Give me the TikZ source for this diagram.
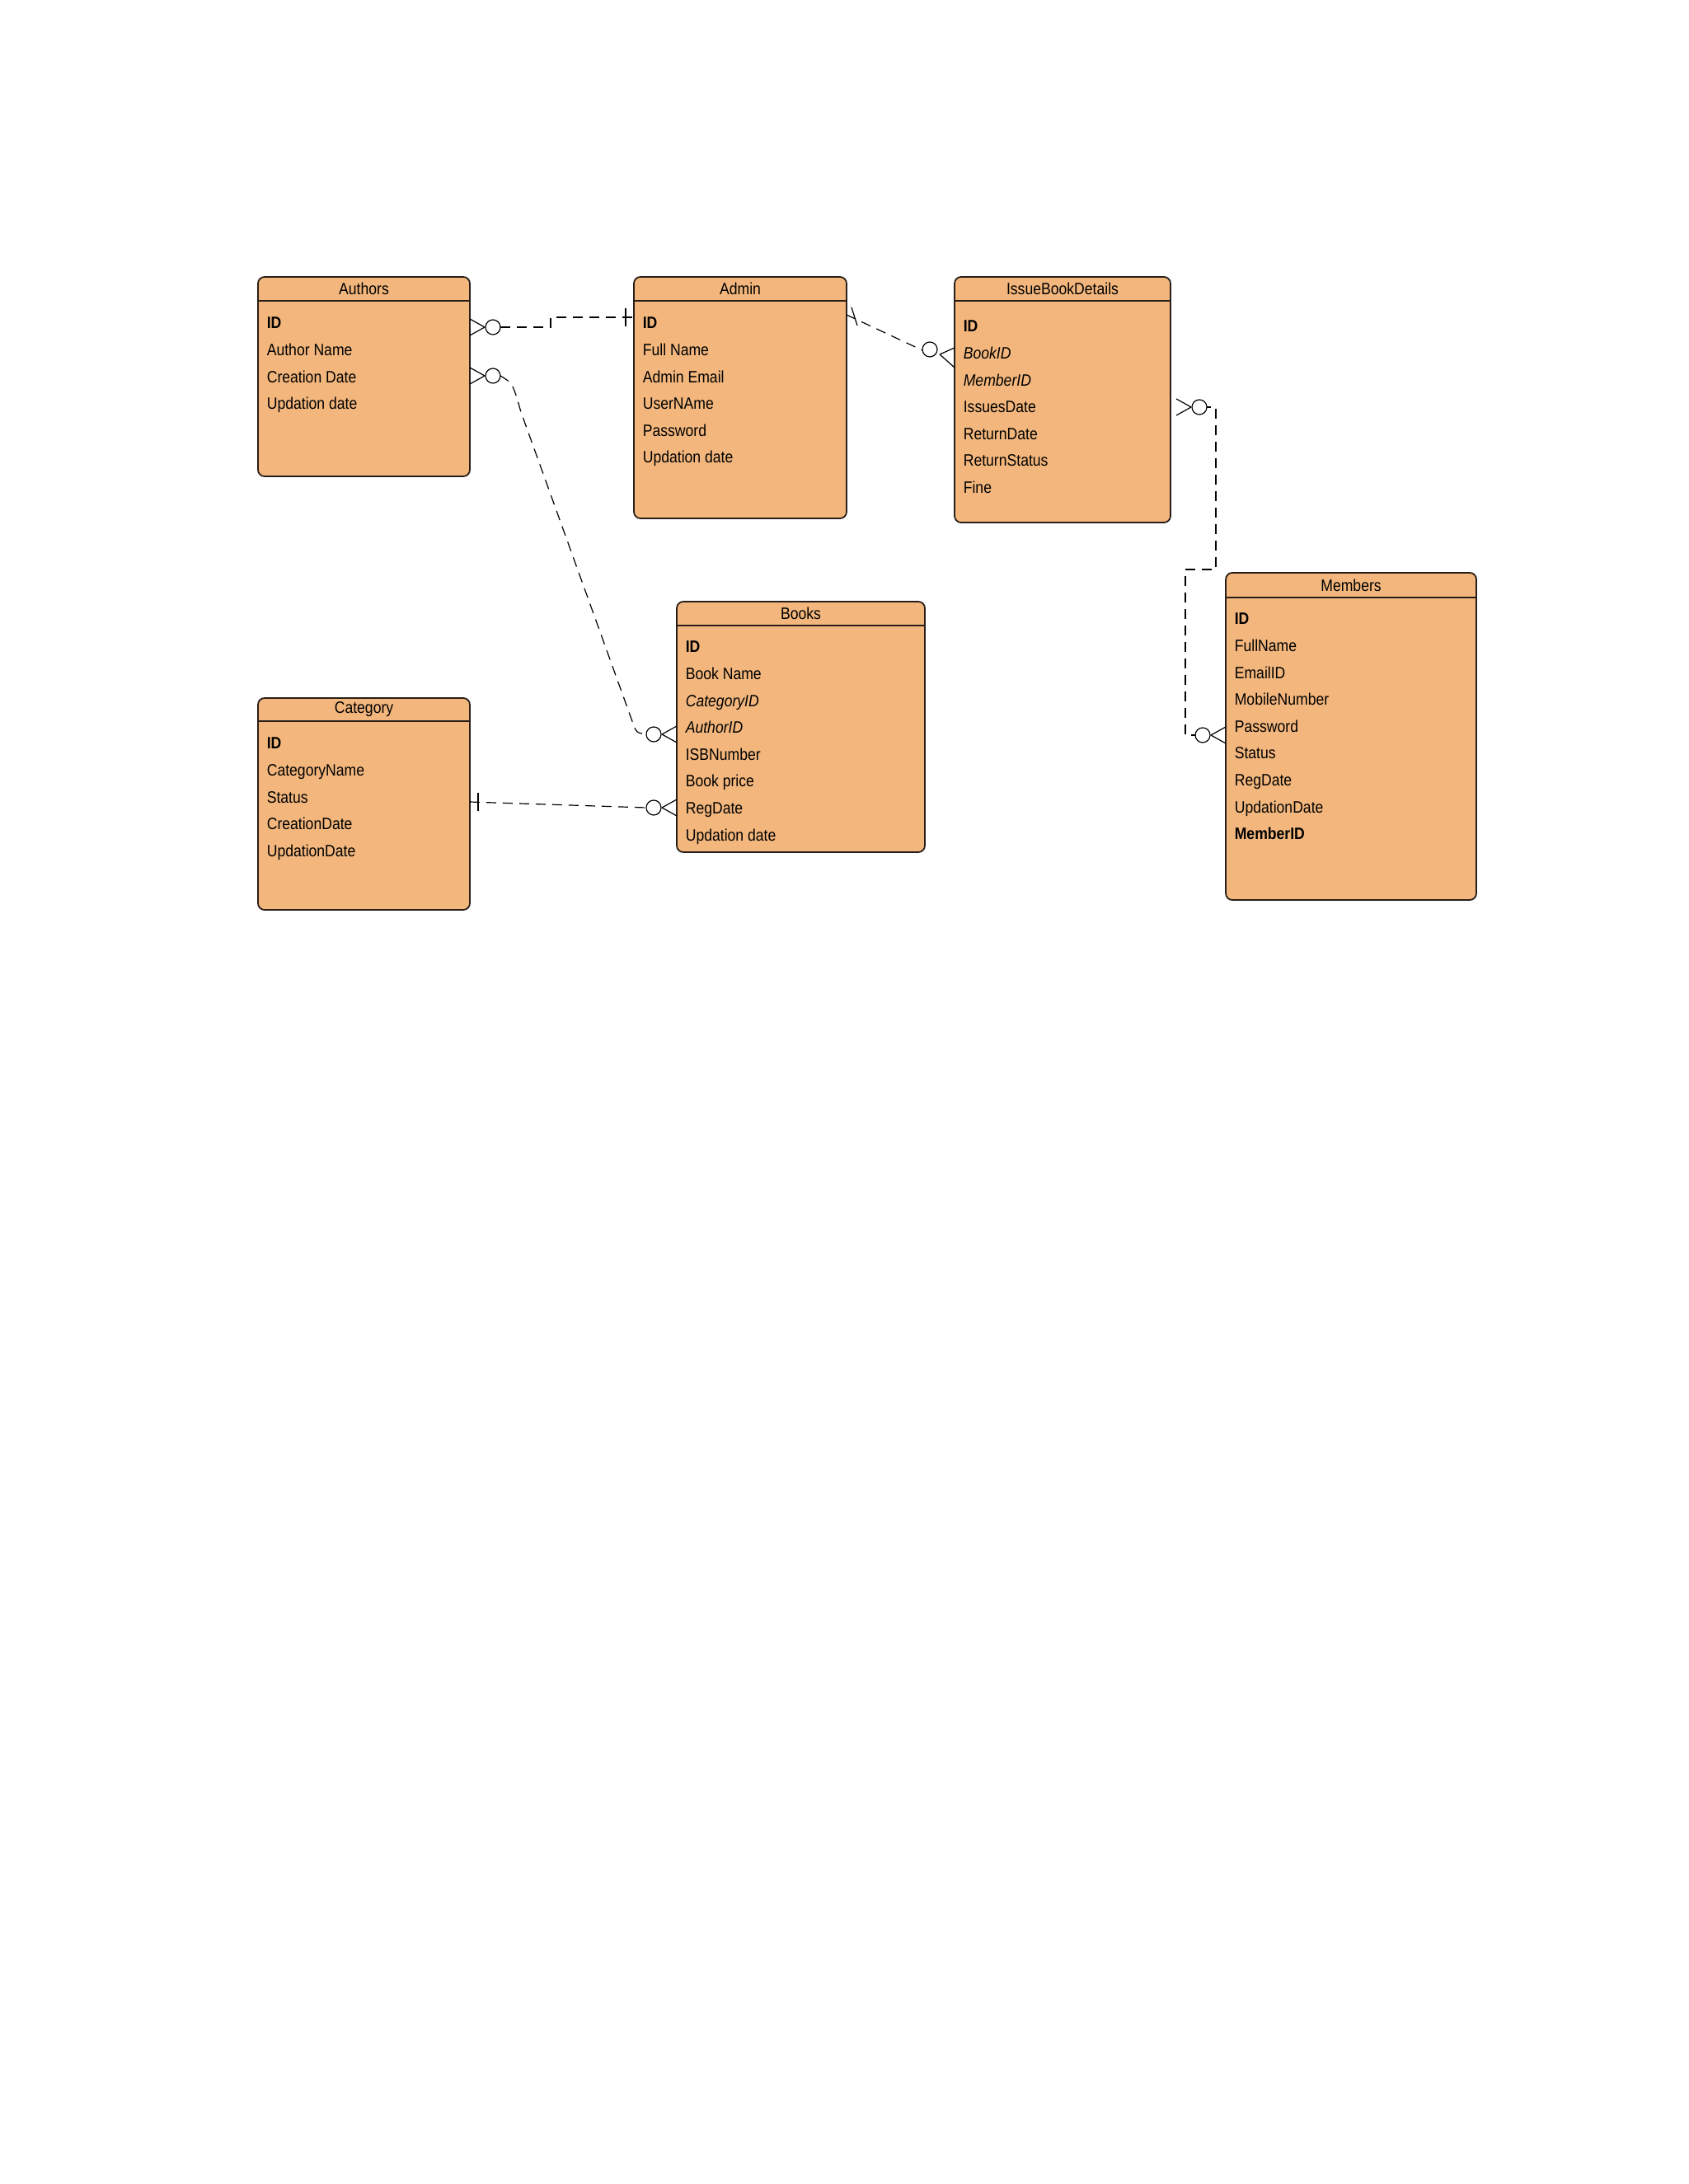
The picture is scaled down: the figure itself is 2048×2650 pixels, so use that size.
\documentclass[tikz,border=0pt]{standalone}
\usepackage{fontspec}
\setmainfont{Liberation Sans}[FakeStretch=0.88]
\definecolor{entfill}{RGB}{243,183,125}
\definecolor{entline}{RGB}{40,30,25}
\tikzset{
  entbox/.style={draw=entline,fill=entfill,line width=0.45pt,rounded corners=2pt},
  rowtxt/.style={anchor=base west,inner sep=0pt,font=\fontsize{5}{6}\selectfont},
  ttl/.style={inner sep=0pt,font=\fontsize{5}{6}\selectfont},
  rel/.style={densely dashed,line width=0.3pt,black},
  ends/.style={line width=0.3pt,black}
}
\newcommand\entity[7]{%
  \draw[entbox] (#2,#3) rectangle (#4,#5);
  \draw[entline,line width=0.45pt] (#2,#7) -- (#4,#7);
  \node[ttl] (#1) at ({(#2+#4)/2},{(#3+#7)/2}) {#6};}
\newcommand\rowsat[3]{\foreach \t [count=\i from 0] in {#3}{\node[rowtxt] at (#1,{#2+32.6*\i}) {\t};}}
% crow + circle, entity to the right of point (line arrives from left)
\newcommand\crowR[2]{\draw[ends] (#1-18,#2) -- (#1,#2-10) (#1-18,#2) -- (#1,#2+10); \draw[ends,fill=white] (#1-28,#2) circle[radius=9];}
% crow + circle, entity to the left of point (line leaves to right)
\newcommand\crowL[2]{\draw[ends] (#1+18,#2) -- (#1,#2-10) (#1+18,#2) -- (#1,#2+10); \draw[ends,fill=white] (#1+28,#2) circle[radius=9];}
\begin{document}
\begin{tikzpicture}[x=0.25pt,y=-0.25pt]
\useasboundingbox[fill=white] (0,0) rectangle (2048,2650);
% entities
\entity{authors}{313}{336}{570}{578}{Authors}{365}
\rowsat{323}{399}{\textbf{ID},Author Name,Creation Date,Updation date}
\entity{admin}{769}{336}{1027}{629}{Admin}{365}
\rowsat{779}{399}{\textbf{ID},Full Name,Admin Email,UserNAme,Password,Updation date}
\entity{ibd}{1158}{336}{1420}{634}{IssueBookDetails}{365}
\rowsat{1168}{403}{\textbf{ID},\textit{BookID},\textit{MemberID},IssuesDate,ReturnDate,ReturnStatus,Fine}
\entity{members}{1487}{695}{1791}{1092}{Members}{725}
\rowsat{1497}{758}{\textbf{ID},FullName,EmailID,MobileNumber,Password,Status,RegDate,UpdationDate,\textbf{MemberID}}
\entity{books}{821}{730}{1122}{1034}{Books}{759}
\rowsat{831}{792}{\textbf{ID},Book Name,\textit{CategoryID},\textit{AuthorID},ISBNumber,Book price,RegDate,Updation date}
\entity{category}{313}{847}{570}{1104}{Category}{875}
\rowsat{323}{909}{\textbf{ID},CategoryName,Status,CreationDate,UpdationDate}
% connection points
\coordinate (a1) at (607,397); \coordinate (ad1) at (769,385);
\coordinate (a2) at (607,456); \coordinate (b1) at (784,891);
\coordinate (ad2) at (1027,382); \coordinate (i1) at (1121,426);
\coordinate (i2) at (1457,494); \coordinate (m1) at (1450,892);
\coordinate (c1) at (570,973); \coordinate (b2) at (784,980);
% relationships
\draw[rel] (a1) -- (668,397) -- (668,385) -- (ad1);
\crowL{570}{397}
\draw[ends] (759,374) -- (759,396);
\draw[rel] (a2) .. controls (622,465) .. (632,500) -- (768,878) .. controls (772,889) .. (b1);
\crowL{570}{456}
\crowR{821}{891}
\draw[rel] (ad2) -- (i1);
\draw[ends] (1033,373) -- (1040,395);
\draw[ends] (1140,430) -- (1158,422) (1140,430) -- (1158,446);
\draw[ends,fill=white] (1128,424) circle[radius=9];
\draw[rel] (i2) -- (1475,494) -- (1475,691) -- (1438,691) -- (1438,892) -- (m1);
\crowL{1427}{494}
\crowR{1487}{892}
\draw[rel] (c1) -- (b2);
\draw[ends] (580,962) -- (580,984);
\crowR{821}{980}
\end{tikzpicture}
\end{document}
